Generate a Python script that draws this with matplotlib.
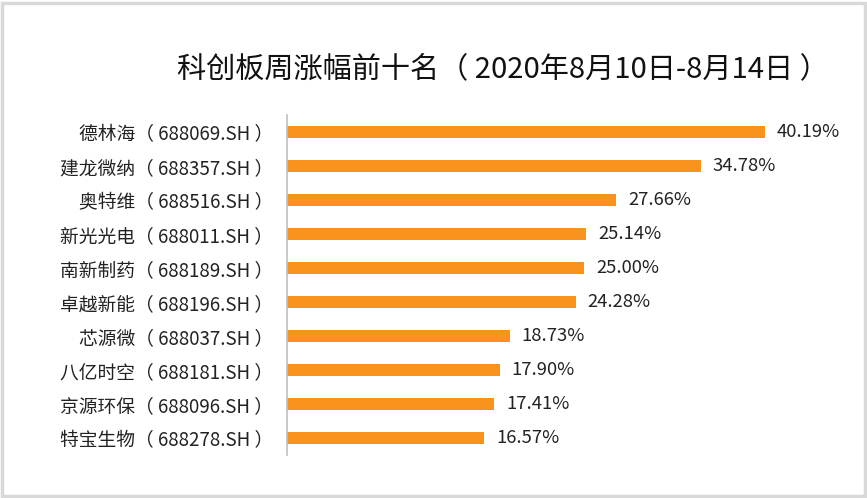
import matplotlib
matplotlib.use("Agg")
import matplotlib.pyplot as plt
from matplotlib.patches import Rectangle

plt.rcParams['font.family'] = ['Noto Sans CJK SC', 'DejaVu Sans']

# ---------------- data ----------------
names = ["德林海", "建龙微纳", "奥特维", "新光光电", "南新制药",
         "卓越新能", "芯源微", "八亿时空", "京源环保", "特宝生物"]
codes = ["688069.SH", "688357.SH", "688516.SH", "688011.SH", "688189.SH",
         "688196.SH", "688037.SH", "688181.SH", "688096.SH", "688278.SH"]
gains = [40.19, 34.78, 27.66, 25.14, 25.00, 24.28, 18.73, 17.90, 17.41, 16.57]
title = "科创板周涨幅前十名（ 2020年8月10日-8月14日 ）"

labels = [f"{n}（ {c} ）" for n, c in zip(names, codes)]
BAR = "#F7931E"

fig = plt.figure(figsize=(8.67, 4.98), dpi=100)
ax = fig.add_axes([0.331, 0.086, 0.638, 0.683])

y = list(range(len(gains)))
ax.barh(y, gains, height=0.37, color=BAR)
for yi, v in zip(y, gains):
    ax.text(v + 1.0, yi, f"{v:.2f}%", va="center", ha="left",
            fontsize=13.3, color="#222222")

ax.set_ylim(len(gains) - 0.5, -0.5)
ax.set_xlim(0, 46.5)
ax.set_yticks(y)
ax.set_yticklabels(labels, fontsize=13.5, color="#222222")
ax.tick_params(axis="y", length=0, pad=10)
ax.set_xticks([])
for s in ("top", "right", "bottom"):
    ax.spines[s].set_visible(False)
ax.spines["left"].set_color("#BFBFBF")
ax.spines["left"].set_linewidth(1.2)

fig.text(0.58, 0.862, title, ha="center", va="center", fontsize=21, color="#111111")

# light frame round the picture
fig.patches.append(Rectangle((0.002, 0.004), 0.996, 0.99, transform=fig.transFigure,
                             fill=False, edgecolor="#D9D9D9", linewidth=2.5))

fig.savefig("out.png", dpi=100)
